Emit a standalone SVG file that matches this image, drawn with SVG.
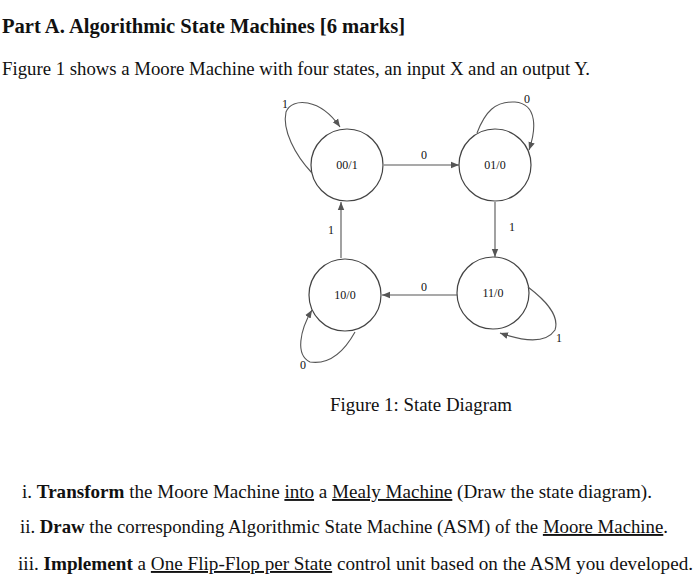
<svg xmlns="http://www.w3.org/2000/svg" width="700" height="588" viewBox="0 0 700 588">
<style>
text{font-family:"Liberation Serif","Times New Roman",serif;fill:#111}
.t{font-size:19px}
.s{font-size:12px}
.b{font-weight:bold}
.ul{text-decoration:underline}
circle{fill:none;stroke:#444;stroke-width:1.2}
.e{fill:none;stroke:#555;stroke-width:1.1;marker-end:url(#a)}
</style>
<defs><marker id="a" viewBox="0 0 10 10" refX="10" refY="5" markerWidth="8" markerHeight="8" orient="auto" markerUnits="userSpaceOnUse"><path d="M0,1 L10,5 L0,9 z" fill="#555"/></marker></defs>
<rect width="700" height="588" fill="#fff"/>
<text class="t b" x="2" y="33" style="font-size:20px" textLength="403" lengthAdjust="spacingAndGlyphs">Part A. Algorithmic State Machines [6 marks]</text>
<text class="t" x="2" y="75" textLength="588" lengthAdjust="spacingAndGlyphs">Figure 1 shows a Moore Machine with four states, an input X and an output Y.</text>
<g id="s00"><circle cx="347" cy="165" r="36"/><text class="s" x="347" y="169" text-anchor="middle">00/1</text></g>
<g id="s01"><circle cx="495" cy="165" r="36"/><text class="s" x="495" y="169" text-anchor="middle">01/0</text></g>
<g id="s10"><circle cx="345" cy="295" r="36"/><text class="s" x="345" y="299" text-anchor="middle">10/0</text></g>
<g id="s11"><circle cx="493" cy="293" r="36"/><text class="s" x="493" y="297" text-anchor="middle">11/0</text></g>
<g id="connectors">
<path class="e" d="M384,165 L459,165"/>
<path class="e" d="M495,202 L495,257"/>
<path class="e" d="M457,295 L382,295"/>
<path class="e" d="M341,258 L341,202"/>
<path class="e" d="M312,173 C295,155 282,130 286,112 C292,97 320,98 340,127"/>
<path class="e" d="M477,133 C485,112 495,101 515,102 C538,104 536,130 529,150"/>
<path class="e" d="M528,287 C545,300 560,315 555,330 C545,345 520,340 500,333"/>
<path class="e" d="M355,332 C345,350 330,365 310,362 C295,355 300,330 312,310"/>
</g>
<g>
<text class="s" x="424" y="159" text-anchor="middle">0</text>
<text class="s" x="512" y="231" text-anchor="middle">1</text>
<text class="s" x="424" y="291" text-anchor="middle">0</text>
<text class="s" x="331" y="234" text-anchor="middle">1</text>
<text class="s" x="285" y="108" text-anchor="middle">1</text>
<text class="s" x="527" y="103" text-anchor="middle">0</text>
<text class="s" x="559" y="342" text-anchor="middle">1</text>
<text class="s" x="303" y="369" text-anchor="middle">0</text>
</g>
<text class="t" x="330" y="411" textLength="182" lengthAdjust="spacingAndGlyphs">Figure 1: State Diagram</text>
<text class="t" x="22" y="498" textLength="630" lengthAdjust="spacingAndGlyphs">i. <tspan class="b">Transform</tspan> the Moore Machine <tspan class="ul">into</tspan> a <tspan class="ul">Mealy Machine</tspan> (Draw the state diagram).</text>
<text class="t" x="20" y="533" textLength="648" lengthAdjust="spacingAndGlyphs">ii. <tspan class="b">Draw</tspan> the corresponding Algorithmic State Machine (ASM) of the <tspan class="ul">Moore Machine</tspan>.</text>
<text class="t" x="18" y="570" textLength="675" lengthAdjust="spacingAndGlyphs">iii. <tspan class="b">Implement</tspan> a <tspan class="ul">One Flip-Flop per State</tspan> control unit based on the ASM you developed.</text>
</svg>
